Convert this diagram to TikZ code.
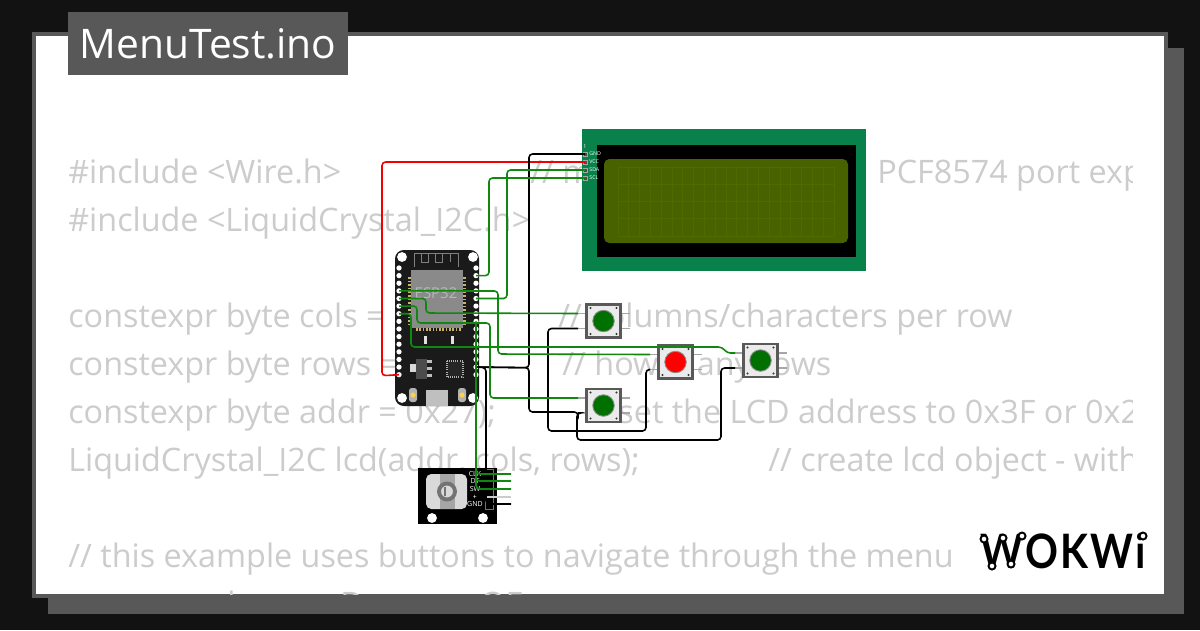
\documentclass[tikz,border=0pt]{standalone}
\usepackage{fontspec}
\setmainfont{Open Sans}
\newfontfamily\logofont[LetterSpace=6]{Lato}
\definecolor{framedark}{HTML}{121212}
\definecolor{framegray}{HTML}{585858}
\definecolor{codegray}{HTML}{CCCCCC}
\definecolor{lcdgreen}{HTML}{08814A}
\definecolor{lcdpanel}{HTML}{486200}
\definecolor{lcdgrid}{HTML}{4F6B00}
\definecolor{pcbblack}{HTML}{1A1A1A}
\definecolor{chipgray}{HTML}{8A8A8A}
\definecolor{goldpin}{HTML}{C9B36A}
\definecolor{wirered}{HTML}{F50000}
\definecolor{wiregreen}{HTML}{108810}
\definecolor{capgreen}{HTML}{007000}
\tikzset{
  codeline/.style={anchor=base west, inner sep=0pt, text=codegray, font=\fontsize{18.4}{18.4}\selectfont},
  wire/.style={line width=0.9pt, rounded corners=2pt},
  wiregr/.style={wire, draw=wiregreen},
  wirebk/.style={wire, draw=black},
  wirerd/.style={wire, draw=wirered},
  btnbody/.style={draw=black!65, line width=1.2pt, fill=black!8, minimum width=0.68cm, minimum height=0.66cm, inner sep=0pt},
  btnleg/.style={draw=black!35, line width=1.1pt},
  btncap/.style={circle, draw=black!45, line width=0.5pt, minimum size=0.43cm, inner sep=0pt},
  pinhole/.style={circle, fill=white, inner sep=0pt, minimum size=3pt},
  mounthole/.style={circle, fill=white, inner sep=0pt, minimum size=5.6pt},
  lcdlabel/.style={text=white, font=\fontsize{3}{3}\selectfont, anchor=west, inner sep=0pt},
  enclabel/.style={text=white, font=\fontsize{4}{4}\selectfont, inner sep=0pt},
  logoring/.style={circle, draw=black, fill=white, line width=1.1pt, inner sep=0pt, minimum size=4pt},
}
\begin{document}
\begin{tikzpicture}[x=0.02cm, y=-0.02cm]
  \useasboundingbox (0, 0) rectangle (1200, 630);
  % Frame
  \fill[framedark] (0, 0) rectangle (1200, 630);
  \fill[framegray] (48, 48) rectangle (1184, 614);
  \fill[framegray] (32, 32) rectangle (1168, 598);
  \fill[white] (36, 36) rectangle (1164, 594);

  % Code
  \begin{scope}
    \clip (36, 36) rectangle (1132, 594);
    \node[codeline] (l1) at (68, 183) {\#include <Wire.h>};
    \node[codeline] (l1b) at (530, 183) {// m};
    \node[codeline] (l1c) at (877, 183) {PCF8574 port expander};
    \node[codeline] (l2) at (68, 231) {\#include <LiquidCrystal\_I2C.h>};
    \node[codeline] (l3) at (68, 327) {constexpr byte cols = 16;};
    \node[codeline] (l3b) at (558, 327) {// columns/characters per row};
    \node[codeline] (l4) at (68, 375) {constexpr byte rows = 2;};
    \node[codeline] (l4b) at (562, 375) {// how many rows};
    \node[codeline] (l5) at (68, 423) {constexpr byte addr = 0x27);};
    \node[codeline] (l5b) at (586, 423) {// set the LCD address to 0x3F or 0x27};
    \node[codeline] (l6) at (68, 471) {LiquidCrystal\_I2C lcd(addr, cols, rows);};
    \node[codeline] (l6b) at (768, 471) {// create lcd object - with};
    \node[codeline] (l7) at (68, 567) {// this example uses buttons to navigate through the menu};
    \node[codeline] (l8a) at (227, 615) {l};
    \node[codeline] (l8b) at (340, 615) {D};
    \node[codeline] (l8c) at (480, 615) {OF};
  \end{scope}

  % Title
  \node[fill=framegray, text=white, inner sep=0pt, minimum width=5.6cm, minimum height=1.26cm, font=\fontsize{23.2}{23.2}\selectfont] (title) at (208, 43.5) {MenuTest.ino};

  % LCD
  \fill[lcdgreen] (582, 129) rectangle (866, 271);
  \fill[black] (597, 145) rectangle (856, 257);
  \fill[lcdpanel, rounded corners=3pt] (604, 159) rectangle (848, 243);
  \foreach \i in {0, ..., 20}
    \draw[lcdgrid, line width=0.4pt] (618 + 10.8*\i, 166) -- (618 + 10.8*\i, 236);
  \foreach \y in {167, 184.5, 201, 218.5, 236}
    \draw[lcdgrid, line width=0.4pt] (618, \y) -- (834, \y);
  \node[lcdlabel] (labone) at (583, 147) {1};
  \foreach \y/\name/\lab in {154/gnd/GND, 162/vcc/VCC, 170/sda/SDA, 178/scl/SCL} {
    \draw[draw=black!35, fill=black!70, line width=0.4pt] (583, \y-2) rectangle (587, \y+2);
    \coordinate (lcd\name) at (585, \y);
    \node[lcdlabel] (lab\name) at (589, \y) {\lab};
  }

  % ESP32
  \fill[pcbblack, rounded corners=5pt] (395, 250) rectangle (479, 406);
  \draw[black!50, line width=0.5pt] (414, 267) -- (414, 253) -- (458, 253) -- (458, 267)
    (421, 253) -- (421, 262) -- (428, 262) -- (428, 253) (435, 253) -- (435, 262) -- (442, 262) -- (442, 253) -- (450, 253) -- (450, 262);
  \foreach \i in {0, ..., 13} {
    \fill[goldpin] (408, 277 + 3.6*\i) rectangle (411, 278.6 + 3.6*\i);
    \fill[goldpin] (463, 277 + 3.6*\i) rectangle (466, 278.6 + 3.6*\i);
    \fill[goldpin] (416 + 3.3*\i, 328) rectangle (417.6 + 3.3*\i, 331);
  }
  \fill[chipgray] (411, 270) rectangle (463, 328);
  \node[text=white!72!black, font=\fontsize{8.5}{8.5}\selectfont, inner sep=0pt] (chip) at (436, 293) {ESP32};
  \foreach \i in {0, ..., 14} {
    \node[pinhole] (pl\i) at (399, 268 + 7.62*\i) {};
    \node[pinhole] (pr\i) at (476, 268 + 7.62*\i) {};
  }
  \node[mounthole] (hole1) at (402, 257) {};
  \node[mounthole] (hole2) at (473, 257) {};
  \node[mounthole] (hole3) at (402, 398) {};
  \node[mounthole] (hole4) at (473, 398) {};
  \fill[white!88!black] (424, 336) rectangle (427, 344);
  \fill[white!88!black] (451, 336) rectangle (454, 344);
  % regulator
  \fill[white!85!black] (410, 364) rectangle (416, 372);
  \fill[white!75!black] (427, 360) rectangle (432, 363);
  \fill[white!75!black] (427, 367) rectangle (432, 370);
  \fill[white!75!black] (427, 374) rectangle (432, 377);
  \fill[black!70] (416, 359) rectangle (427, 379);
  % usb chip
  \draw[white!70!black, line width=1.2pt, dash pattern=on 0.5pt off 0.7pt] (447, 361) rectangle (463, 377);
  \fill[black!85] (448, 362) rectangle (462, 376);
  \fill[black!25] (426, 390) rectangle (448, 406);
  % leds
  \foreach \x in {413, 462} {
    \fill[black!30, rounded corners=1.5pt] (\x-4, 388) rectangle (\x+4, 402);
    \fill[yellow!55!orange!70!white] (\x, 395) circle (2.6);
  }

  % Buttons
  \foreach \x/\y/\name/\col in {603.5/321/bta/capgreen, 675.5/362/btb/red, 760.5/360.5/btc/capgreen, 603.5/405.5/btd/capgreen} {
    \draw[btnleg] (\x-25.5, \y-7.5) -- (\x+26.5, \y-7.5);
    \draw[btnleg] (\x-25.5, \y+7.5) -- (\x+26.5, \y+7.5);
    \node[btnbody] (\name) at (\x, \y) {};
    \foreach \dx/\dy in {-13/-13, 13/-13, -13/13, 13/13}
      \fill[black!80] (\x+\dx, \y+\dy) circle (1.1);
    \node[btncap, fill=\col] (\name cap) at (\x, \y) {};
    \coordinate (\name i) at (\x-25.5, \y-7.5);
    \coordinate (\name o) at (\x-25.5, \y+7.5);
  }

  % Encoder
  \fill[black] (418, 468) rectangle (497, 524);
  \fill[white!85!black, rounded corners=3pt] (426, 474) rectangle (467, 509);
  \fill[black!35] (440, 474) rectangle (455, 509);
  \node[circle, draw=black!55, line width=2.2pt, fill=white!85!black, minimum size=0.32cm, inner sep=0pt] (knob) at (447, 491.5) {};
  \draw[black!55, line width=1.2pt] (445, 487) -- (445, 496);
  \foreach \y/\name/\lab in {474/clk/CLK, 481/dt/DT, 489/sw/SW, 497/vp/+, 504/egnd/GND} {
    \node[enclabel] (lab\name) at (475, \y) {\lab};
    \coordinate (enc\name) at (511, \y);
  }
  \draw[black!55, line width=0.5pt] (485, 469) rectangle (493, 509);
  \node[mounthole] (hole5) at (432, 518) {};
  \node[mounthole] (hole6) at (483, 518) {};
  \coordinate (encplus) at (487, 497);
  \draw[line width=1pt, draw=black!20] (encplus) -- (encvp);

  % Wires
  \draw[wirerd] (pl14.center) -- (382, 375.7) |- (lcdvcc);
  \draw[wirebk] (pr13.center) -- (529, 367.7) |- (lcdgnd);
  \draw[wirebk] (pr13.center) -- (529, 367.7) -- (529, 412) -- (578, 412) -- (btdo);
  \draw[wirebk] (pr13.center) -- (486, 367.7) |- (encegnd);
  \draw[wirebk] (btao) -- (548, 328.5) -- (548, 431) -- (646, 431) -- (646, 369.5) -- (btbo);
  \draw[wirebk] (btdo) -- (577, 413) -- (577, 440) -- (721, 440) -- (721, 368) -- (btco);
  \draw[wiregr] (pr1.center) -- (489, 275.6) |- (lcdscl);
  \draw[wiregr] (pr4.center) -- (507, 298.5) |- (lcdsda);
  \draw[wiregr] (pl3.center) -- (498, 291) -- (498, 354) -- (btbi);
  \draw[wiregr] (pl4.center) -- (426, 298.5) -- (426, 313) -- (btai);
  \draw[wiregr] (pl5.center) -- (417, 306) -- (417, 323) -- (490, 323) |- (btdi);
  \draw[wiregr] (pl6.center) -- (411, 313.7) -- (411, 347) -- (722, 347) -- (727, 353) -- (btci);
  \draw[wiregr] (pr7.center) |- (encclk);
  \draw[wiregr] (pr8.center) |- (encdt);
  \draw[wiregr] (pr9.center) |- (encsw);

  % Logo
  \node[anchor=base west, inner sep=0pt, xscale=0.86, font=\logofont\bfseries\fontsize{27}{27}\selectfont] (logo) at (980, 568) {WOKWi};
  \node[logoring] (ring1) at (984, 539) {};
  \node[logoring] (ring2) at (1003, 538) {};
  \node[logoring] (ring3) at (1022, 536) {};
  \node[logoring] (ring4) at (992, 566) {};
  \node[logoring] (ring5) at (1011, 564) {};
  \node[logoring] (ring6) at (1143, 536) {};
\end{tikzpicture}
\end{document}
